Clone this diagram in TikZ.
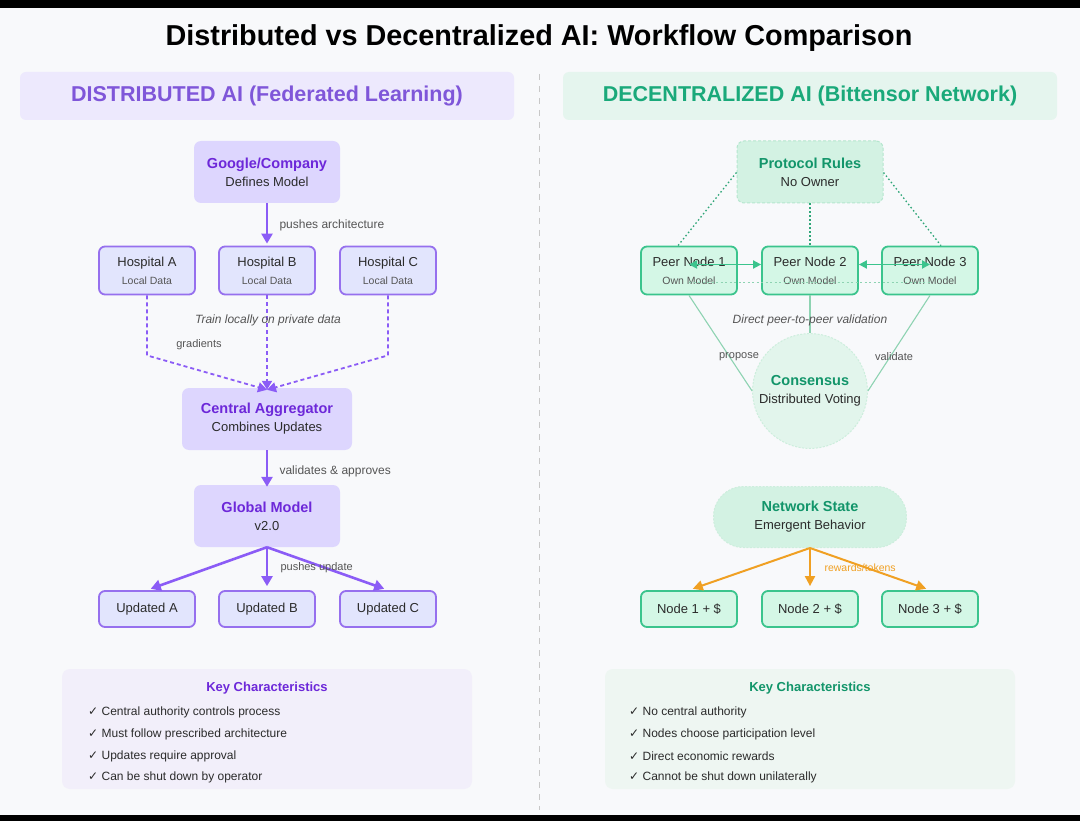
\documentclass[tikz,border=0pt]{standalone}
\usepackage{fontspec}
\setmainfont{Liberation Sans}
\newfontfamily\symfont{DejaVu Sans}
\usetikzlibrary{arrows.meta,shapes.geometric}
\definecolor{bg}{HTML}{F8F9FB}
\definecolor{txt}{HTML}{2B2B2B}
\definecolor{sub}{HTML}{555555}
\definecolor{hdrL}{HTML}{EDE9FD}
\definecolor{hdrLtxt}{HTML}{7F56D9}
\definecolor{ptitle}{HTML}{6D28D9}
\definecolor{lav}{HTML}{DDD6FE}
\definecolor{hosp}{HTML}{E2E5FD}
\definecolor{parrow}{HTML}{8B5CF6}
\definecolor{pborder}{HTML}{9670EE}
\definecolor{hdrR}{HTML}{E5F5EE}
\definecolor{hdrRtxt}{HTML}{1AA97A}
\definecolor{gtitle}{HTML}{12956A}
\definecolor{peer}{HTML}{D4F7E6}
\definecolor{gborder}{HTML}{3BC48D}
\definecolor{proto}{HTML}{D3F2E3}
\definecolor{protoedge}{HTML}{B5E6CE}
\definecolor{cons}{HTML}{E2F5EC}
\definecolor{consedge}{HTML}{CDEEDD}
\definecolor{gline}{HTML}{8ED3B2}
\definecolor{gdot}{HTML}{2FA678}
\definecolor{orng}{HTML}{F0A023}
\definecolor{keyL}{HTML}{F2EFFA}
\definecolor{keyR}{HTML}{EEF6F2}
\definecolor{divider}{HTML}{C8C8C8}
\tikzset{
  hdr/.style={rounded corners=6pt, minimum width=494pt, minimum height=48pt, font=\bfseries\fontsize{21.5}{24}\selectfont},
  bigbox/.style={rounded corners=7pt, minimum width=146pt, minimum height=62pt, align=center, text=txt, font=\fontsize{13}{18}\selectfont},
  lbox/.style={bigbox, fill=lav},
  hbox/.style={fill=hosp, draw=pborder, line width=1.8pt, rounded corners=6pt, minimum width=96pt, minimum height=48pt, align=center, text=txt, font=\fontsize{13}{18}\selectfont},
  ubox/.style={hbox, minimum height=36pt},
  pbox/.style={hbox, fill=peer, draw=gborder},
  nbox/.style={ubox, fill=peer, draw=gborder},
  lbl/.style={text=sub, font=\fontsize{12}{14}\selectfont},
  slbl/.style={text=sub, font=\fontsize{11}{13}\selectfont},
  parr/.style={draw=parrow, line width=2.6pt, -{Triangle[length=10pt,width=11pt]}},
  pdash/.style={draw=parrow, line width=1.8pt, dash pattern=on 4pt off 3pt, -{Triangle[length=9pt,width=10pt]}},
  garr/.style={draw=gborder, line width=1.8pt, {Triangle[length=8pt,width=8pt]}-{Triangle[length=8pt,width=8pt]}},
  gdotl/.style={draw=gdot, line width=1.3pt, dash pattern=on 1.5pt off 2.5pt},
  glin/.style={draw=gline, line width=1.1pt},
  oarr/.style={draw=orng, line width=2pt, -{Triangle[length=10pt,width=10pt]}},
  keybox/.style={rounded corners=8pt, minimum width=410pt, minimum height=120pt},
  keyt/.style={font=\bfseries\fontsize{13}{15}\selectfont},
  item/.style={anchor=west, text=txt, font=\fontsize{12}{14}\selectfont, inner sep=0pt}
}
\newcommand{\ck}{{\symfont\fontsize{12}{12}\selectfont ✓}\ }
\begin{document}
\begin{tikzpicture}[x=1pt,y=-1pt]
\useasboundingbox (0,0) rectangle (1080,821);
\fill[bg] (0,0) rectangle (1080,821);
\fill[black] (0,0) rectangle (1080,8);
\fill[black] (0,815) rectangle (1080,821);

% title
\node[font=\bfseries\fontsize{28.8}{32}\selectfont, text=black] (title) at (539,38) {Distributed vs Decentralized AI: Workflow Comparison};

% headers
\node[hdr, fill=hdrL, text=hdrLtxt] (hl) at (267,96) {DISTRIBUTED AI (Federated Learning)};
\node[hdr, fill=hdrR, text=hdrRtxt] (hr) at (810,96) {DECENTRALIZED AI (Bittensor Network)};

% divider
\coordinate (dv1) at (539,74);
\coordinate (dv2) at (539,810);
\draw[divider, line width=1pt, dash pattern=on 6pt off 6pt] (dv1) -- (dv2);

% ---------- LEFT ----------
\node[lbox] (goog) at (267,172) {{\bfseries\fontsize{14.5}{18}\selectfont\color{ptitle}Google/Company}\\Defines Model};
\node[hbox] (hA) at (147,270.5) {Hospital A\\{\fontsize{10.5}{19}\selectfont\color{sub}Local Data}};
\node[hbox] (hB) at (267,270.5) {Hospital B\\{\fontsize{10.5}{19}\selectfont\color{sub}Local Data}};
\node[hbox] (hC) at (388,270.5) {Hospital C\\{\fontsize{10.5}{19}\selectfont\color{sub}Local Data}};
\node[lbox, minimum width=170pt] (agg) at (267,419) {{\bfseries\fontsize{14.5}{18}\selectfont\color{ptitle}Central Aggregator}\\Combines Updates};
\node[lbox] (glob) at (267,516) {{\bfseries\fontsize{14.5}{18}\selectfont\color{ptitle}Global Model}\\v2.0};
\node[ubox] (uA) at (147,609) {Updated A};
\node[ubox] (uB) at (267,609) {Updated B};
\node[ubox] (uC) at (388,609) {Updated C};

\draw[parr, shorten >=2pt] (goog.south) -- (hB.north);
\node[lbl, anchor=west] (l1) at (276,225) {pushes architecture};

\draw[pdash] (hA.south) -- ++(0,60) -- ([yshift=-2pt]agg.north);
\draw[pdash] (hB.south) -- ([yshift=-2pt]agg.north);
\draw[pdash] (hC.south) -- ++(0,60) -- ([yshift=-2pt]agg.north);
\node[lbl, font=\itshape\fontsize{12}{14}\selectfont] (l2) at (268,320) {Train locally on private data};
\node[slbl] (l3) at (199,345) {gradients};

\draw[parr] (agg.south) -- ([yshift=-2pt]glob.north);
\node[lbl, anchor=west] (l4) at (276,471) {validates \& approves};

\draw[parr, shorten >=4pt] (glob.south) -- (uA.north);
\draw[parr, shorten >=4pt] (glob.south) -- (uB.north);
\draw[parr, shorten >=4pt] (glob.south) -- (uC.north);
\node[slbl, anchor=west] (l5) at (277,568) {pushes update};

\node[keybox, fill=keyL] (kL) at (267,729) {};
\node[keyt, text=ptitle] (kLt) at (267,688) {Key Characteristics};
\node[item] (kL1) at (88,712) {\ck Central authority controls process};
\node[item] (kL2) at (88,734) {\ck Must follow prescribed architecture};
\node[item] (kL3) at (88,756) {\ck Updates require approval};
\node[item] (kL4) at (88,777) {\ck Can be shut down by operator};

% ---------- RIGHT ----------
\node[bigbox, fill=proto, draw=protoedge, line width=1pt, dash pattern=on 3pt off 2pt] (pr) at (810,172) {{\bfseries\fontsize{14.5}{18}\selectfont\color{gtitle}Protocol Rules}\\No Owner};
\node[pbox] (p1) at (689,270.5) {Peer Node 1\\{\fontsize{10.5}{19}\selectfont\color{sub}Own Model}};
\node[pbox] (p2) at (810,270.5) {Peer Node 2\\{\fontsize{10.5}{19}\selectfont\color{sub}Own Model}};
\node[pbox] (p3) at (930,270.5) {Peer Node 3\\{\fontsize{10.5}{19}\selectfont\color{sub}Own Model}};

\draw[gdotl] ([yshift=-32pt]pr.north west) -- ([xshift=-11pt]p1.north);
\draw[gdotl] (pr.south) -- (p2.north);
\draw[gdotl] ([yshift=-32pt]pr.north east) -- ([xshift=11pt]p3.north);

\draw[garr] ([yshift=6pt]p1.center) -- ([yshift=6pt]p2.west);
\draw[garr] ([yshift=6pt]p2.east) -- ([yshift=6pt]p3.center);
\draw[draw=gline, line width=1.1pt, dash pattern=on 2pt off 2.5pt] ([yshift=-12pt]p1.center) -- ([yshift=-12pt]p3.center);

\node[circle, minimum size=110pt, fill=cons, draw=consedge, line width=1pt, dash pattern=on 2pt off 1.5pt, align=center, text=txt, font=\fontsize{13}{18}\selectfont] (cons) at (810,391) {{\bfseries\fontsize{14.5}{18}\selectfont\color{gtitle}Consensus}\\Distributed Voting};
\draw[glin] (p1.south) -- (cons.west);
\draw[glin] (p2.south) -- (cons.north);
\draw[glin] (p3.south) -- (cons.east);
\node[lbl, font=\itshape\fontsize{12}{14}\selectfont] (r1) at (810,320) {Direct peer-to-peer validation};
\node[slbl] (r2) at (739,357) {propose};
\node[slbl] (r3) at (894,357) {validate};

\node[bigbox, rounded corners=30pt, minimum width=193pt, minimum height=61pt, fill=proto, draw=consedge, line width=1pt, dash pattern=on 2pt off 1.5pt] (ns) at (810,517) {{\bfseries\fontsize{14.5}{18}\selectfont\color{gtitle}Network State}\\Emergent Behavior};
\node[nbox] (n1) at (689,609) {Node 1 + \$};
\node[nbox] (n2) at (810,609) {Node 2 + \$};
\node[nbox] (n3) at (930,609) {Node 3 + \$};
\draw[oarr, shorten >=4pt] (ns.south) -- (n1.north);
\draw[oarr, shorten >=4pt] (ns.south) -- (n2.north);
\draw[oarr, shorten >=4pt] (ns.south) -- (n3.north);
\node[text=orng, font=\fontsize{10.5}{12}\selectfont, anchor=west] (r4) at (821,568) {rewards/tokens};

\node[keybox, fill=keyR] (kR) at (810,729) {};
\node[keyt, text=gtitle] (kRt) at (810,688) {Key Characteristics};
\node[item] (kR1) at (629,712) {\ck No central authority};
\node[item] (kR2) at (629,734) {\ck Nodes choose participation level};
\node[item] (kR3) at (629,756) {\ck Direct economic rewards};
\node[item] (kR4) at (629,777) {\ck Cannot be shut down unilaterally};
\end{tikzpicture}
\end{document}
